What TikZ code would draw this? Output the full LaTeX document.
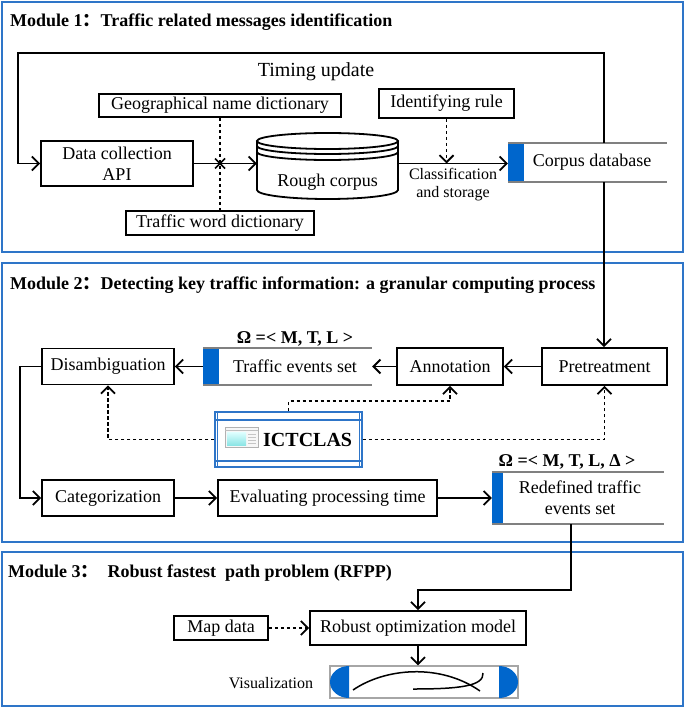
\documentclass[tikz,border=0pt]{standalone}
\usepackage{fontspec}
\setmainfont{Liberation Serif}
\newfontfamily\cjkf{Noto Sans CJK SC}
\usetikzlibrary{arrows.meta,calc}
\definecolor{frameblue}{RGB}{46,117,200}
\definecolor{barblue}{RGB}{0,102,204}
\newcommand{\fsm}{\fontsize{18pt}{21pt}\selectfont}
\newcommand{\fss}{\fontsize{16pt}{18pt}\selectfont}
\newcommand{\fbig}{\fontsize{20pt}{24pt}\selectfont}
\newcommand{\fcolon}{{\cjkf ：}}
\begin{document}
\begin{tikzpicture}[x=1pt,y=-1pt,
  plainbox/.style={draw, line width=1.8pt, inner sep=0pt, font=\fsm, align=center},
  dbnode/.style={inner sep=0pt, font=\fsm, align=center},
  arr/.style={line width=1.8pt, -{Straight Barb[length=7pt,width=14pt,line width=1.8pt]}},
  darr/.style={arr, dash pattern=on 3.5pt off 2.5pt},
  dline/.style={line width=1.7pt, dash pattern=on 3.5pt off 2.5pt},
  modframe/.style={draw=frameblue, line width=2.2pt},
  ttl/.style={font=\fsm\bfseries, anchor=west, inner sep=0pt},
]
\useasboundingbox (0,0) rectangle (685,708);
\fill[white] (0,0) rectangle (685,708);

% module frames
\draw[modframe] (2,2) rectangle (683,252);
\draw[modframe] (2,263) rectangle (683,542);
\draw[modframe] (2,552) rectangle (683,706);

\node[ttl] (t1) at (10,22) {Module 1\fcolon Traffic related messages identification};
\node[ttl] (t2) at (10,285) {Module 2\fcolon Detecting key traffic information: a granular computing process};
\node[ttl] (t3) at (8,573) {Module 3\fcolon\ \ Robust fastest\ \ path problem (RFPP)};

% ---------- module 1
\node[plainbox, minimum width=152pt, minimum height=45pt] (dc) at (117,163.5) {Data collection\\API};
\node[plainbox, minimum width=242pt, minimum height=23pt] (geo) at (220,105.5) {Geographical name dictionary};
\node[plainbox, minimum width=188pt, minimum height=24pt] (tw) at (220,223) {Traffic word dictionary};
\node[plainbox, minimum width=135pt, minimum height=29pt] (rule) at (446.5,103.5) {Identifying rule};

% rough corpus cylinder
\node[dbnode, minimum width=141pt, minimum height=67pt] (rough) at (327.5,166.5) {};
\filldraw[fill=white, line width=1.8pt] (257,141) -- (257,190)
  arc[start angle=180, end angle=360, x radius=70.5pt, y radius=9pt] -- (398,141);
\draw[line width=1.8pt] (327.5,141) ellipse [x radius=70.5pt, y radius=8pt];
\draw[line width=1.8pt] (257,146) arc[start angle=180, end angle=360, x radius=70.5pt, y radius=8pt];
\draw[line width=1.8pt] (257,152) arc[start angle=180, end angle=360, x radius=70.5pt, y radius=8pt];
\node[font=\fsm] (roughtxt) at (327.5,182) {Rough corpus};

% corpus database
\node[dbnode, minimum width=159pt, minimum height=39pt] (cdb) at (587.5,162.5) {\hspace*{9pt}Corpus database};
\fill[barblue] (cdb.north west) rectangle ($(cdb.south west)+(16,0)$);
\draw[gray, line width=1.5pt] (cdb.north west) -- (cdb.north east) (cdb.south west) -- (cdb.south east);

\node[font=\fbig] (tu) at (316,72) {Timing update};
\node[font=\fss, align=center] (cls) at (453,185) {Classification\\and storage};

% connectors module 1
\draw[arr] (dc.east) -- (dc.east -| rough.west);
\draw[dline] (geo.south) -- (tw.north);
\coordinate (xx) at (220,163.5);
\draw[line width=1.6pt] ($(xx)+(-5,-5)$) -- ($(xx)+(5,5)$) ($(xx)+(-5,5)$) -- ($(xx)+(5,-5)$);
\draw[arr] (rough.east |- dc.east) -- (cdb.west |- dc.east);
\draw[darr] (rule.south) -- (rule.south |- dc.east);
\coordinate (lx) at (604,53);
\coordinate (lcorner) at (18,53);
\draw[arr] (lx |- cdb.north) -- (lx) -- (lcorner) |- (dc.west);

% ---------- module 2
\node[plainbox, minimum width=125pt, minimum height=37pt] (pre) at (604.5,366.5) {Pretreatment};
\node[plainbox, minimum width=106pt, minimum height=37pt] (ann) at (450,366.5) {Annotation};
\node[dbnode, minimum width=169pt, minimum height=37pt] (tes) at (287.5,366.5) {\hspace*{15pt}Traffic events set};
\fill[barblue] (tes.north west) rectangle ($(tes.south west)+(16,0)$);
\draw[gray, line width=1.5pt] (tes.north west) -- (tes.north east) (tes.south west) -- (tes.south east);
\node[plainbox, minimum width=132pt, minimum height=36pt] (dis) at (108,366.5) {Disambiguation};
\node[font=\fsm\bfseries] (om1) at (295,339) {Ω =< M, T, L >};

\node[plainbox, minimum width=132pt, minimum height=36pt] (cat) at (108,498) {Categorization};
\node[plainbox, minimum width=219pt, minimum height=36pt] (eval) at (327.5,498) {Evaluating processing time};
\node[dbnode, minimum width=172pt, minimum height=52pt] (red) at (578,498) {\hspace*{4pt}Redefined traffic\\\hspace*{4pt}events set};
\fill[barblue] (red.north west) rectangle ($(red.south west)+(11,0)$);
\draw[gray, line width=1.5pt] (red.north west) -- (red.north east) (red.south west) -- (red.south east);
\node[font=\fsm\bfseries] (om2) at (567,462) {Ω =< M, T, L, Δ >};

% ICTCLAS
\node[draw=frameblue, line width=1.4pt, fill=white, minimum width=147pt, minimum height=55pt, inner sep=0pt] (ict) at (288.5,439.5) {};
\draw[frameblue, line width=1.1pt] (215,420) -- (362,420) (215,461) -- (362,461)
  (217.5,412) -- (217.5,467) (359.5,412) -- (359.5,467);
\draw[gray!60, fill=gray!6, line width=0.6pt] (225,427) rectangle (258,447);
\draw[gray!50, line width=0.5pt] (225,430) -- (258,430);
\shade[top color=cyan!12!white, bottom color=teal!45!cyan!45!white] (227,432) rectangle (246,445);
\foreach \yy in {434,437,440,443} \draw[gray!45, line width=0.6pt] (248,\yy) -- (256,\yy);
\node[font=\fbig\bfseries, anchor=west, inner sep=0pt] (icttxt) at (263,440) {ICTCLAS};

% connectors module 2
\draw[arr] (lx |- cdb.south) -- (lx |- pre.north);
\draw[arr] (pre.west) -- (ann.east);
\draw[arr] (ann.west) -- (tes.east);
\draw[arr] (tes.west) -- (dis.east);
\draw[darr] (ict.north) -- ++(0,-10) -| (ann.south);
\draw[darr] (ict.west) -| (dis.south);
\draw[darr] (ict.east) -| (pre.south);
\draw[arr] (dis.west) -- ++(-21,0) |- (cat.west);
\draw[arr] (cat.east) -- (eval.west);
\draw[arr] (eval.east) -- (red.west);

% ---------- module 3
\node[plainbox, minimum width=94pt, minimum height=24pt] (map) at (221,628) {Map data};
\node[plainbox, minimum width=216pt, minimum height=34pt] (rob) at (418,628) {Robust optimization model};
\node[draw=gray!70, line width=1.2pt, fill=white, minimum width=188pt, minimum height=32pt, inner sep=0pt] (vis) at (424,682) {};
\fill[barblue] (349,666) arc[start angle=90, end angle=270, x radius=19pt, y radius=16pt] -- cycle;
\fill[barblue] (499,666) arc[start angle=90, end angle=-90, x radius=19pt, y radius=16pt] -- cycle;
\draw[line width=1.5pt] (353,690) .. controls (385,668) and (440,663) .. (480,691);
\draw[line width=1.5pt] (413,689) .. controls (460,689) and (484,686) .. (483,673);
\node[font=\fss] (vlab) at (271,683) {Visualization};

\draw[arr] ($(red.south)+(-7,0)$) -- ++(0,66) -| (rob.north);
\draw[darr] (map.east) -- (rob.west);
\draw[arr] (rob.south) -- (rob.south |- vis.north);
\end{tikzpicture}
\end{document}
